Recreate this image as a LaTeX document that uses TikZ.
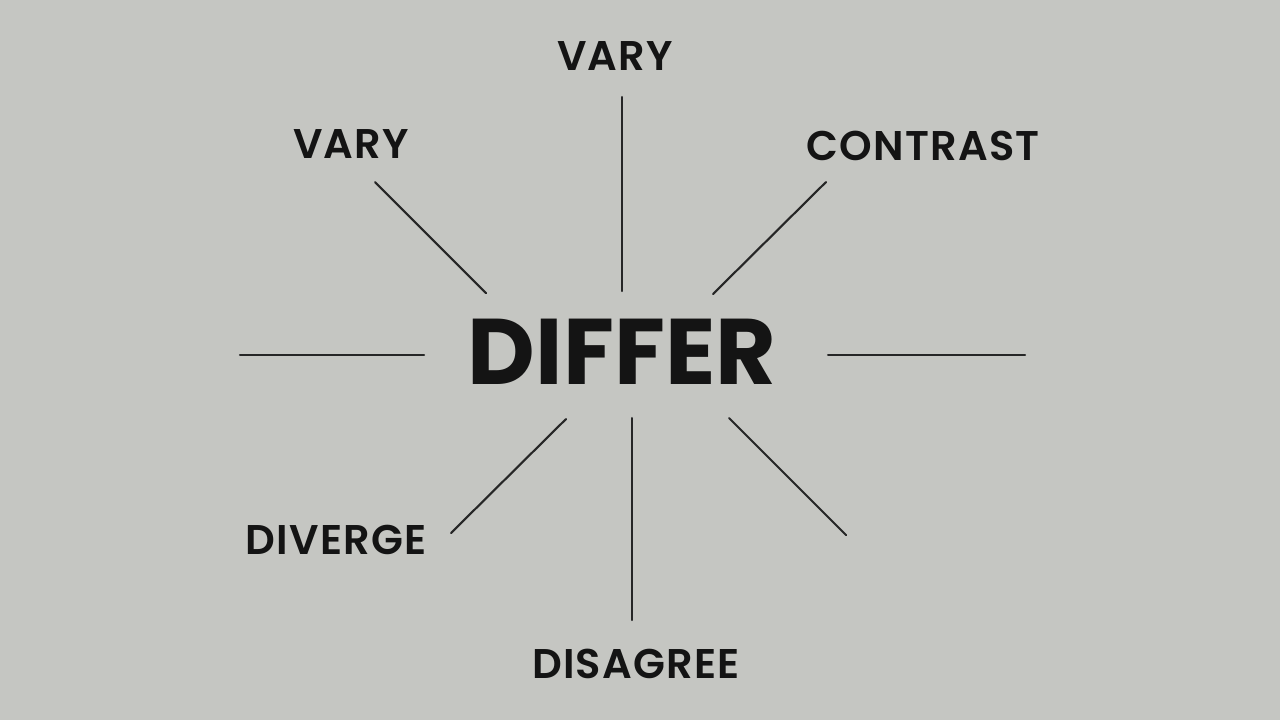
\documentclass[tikz,border=0pt]{standalone}
\usepackage{fontspec}
\setmainfont{Poppins}
\newfontfamily\labelfont{Poppins SemiBold}[LetterSpace=3]
\usepackage{xcolor}
\definecolor{bggray}{HTML}{C5C6C2}
\definecolor{inkgray}{HTML}{141414}
\definecolor{spokegray}{HTML}{262626}
\tikzset{
  word/.style={text=inkgray,font=\fontsize{11.8}{12}\labelfont,inner sep=0pt},
  bigword/.style={text=inkgray,font=\fontsize{26.5}{27}\selectfont\bfseries,inner sep=0pt},
  spoke/.style={draw=spokegray,line width=0.6pt}
}

\begin{document}
\begin{tikzpicture}[line cap=round,x=0.01cm,y=-0.01cm]
\fill[bggray] (0,0) rectangle (1280,720);
\node[bigword] (differ) at (622,352) {DIFFER};
\node[word] (varyTop) at (615,56) {VARY};
\node[word] (varyLeft) at (351,144) {VARY};
\node[word] (contrast) at (923,146) {CONTRAST};
\node[word] (diverge) at (336,540) {DIVERGE};
\node[word] (disagree) at (636,664) {DISAGREE};
\coordinate (ulA) at (375,182);
\coordinate (ulB) at (486,293);
\coordinate (upA) at (622,97);
\coordinate (upB) at (622,291);
\coordinate (urA) at (826,182);
\coordinate (urB) at (713,294);
\coordinate (lfA) at (240,355);
\coordinate (lfB) at (424,355);
\coordinate (rtA) at (828,355);
\coordinate (rtB) at (1025,355);
\coordinate (dlA) at (566,419);
\coordinate (dlB) at (451,533);
\coordinate (dnA) at (632,418);
\coordinate (dnB) at (632,620);
\coordinate (drA) at (729,418);
\coordinate (drB) at (846,535);
\draw[spoke] (ulA) -- (ulB);
\draw[spoke] (upA) -- (upB);
\draw[spoke] (urA) -- (urB);
\draw[spoke] (lfA) -- (lfB);
\draw[spoke] (rtA) -- (rtB);
\draw[spoke] (dlA) -- (dlB);
\draw[spoke] (dnA) -- (dnB);
\draw[spoke] (drA) -- (drB);
\end{tikzpicture}
\end{document}
